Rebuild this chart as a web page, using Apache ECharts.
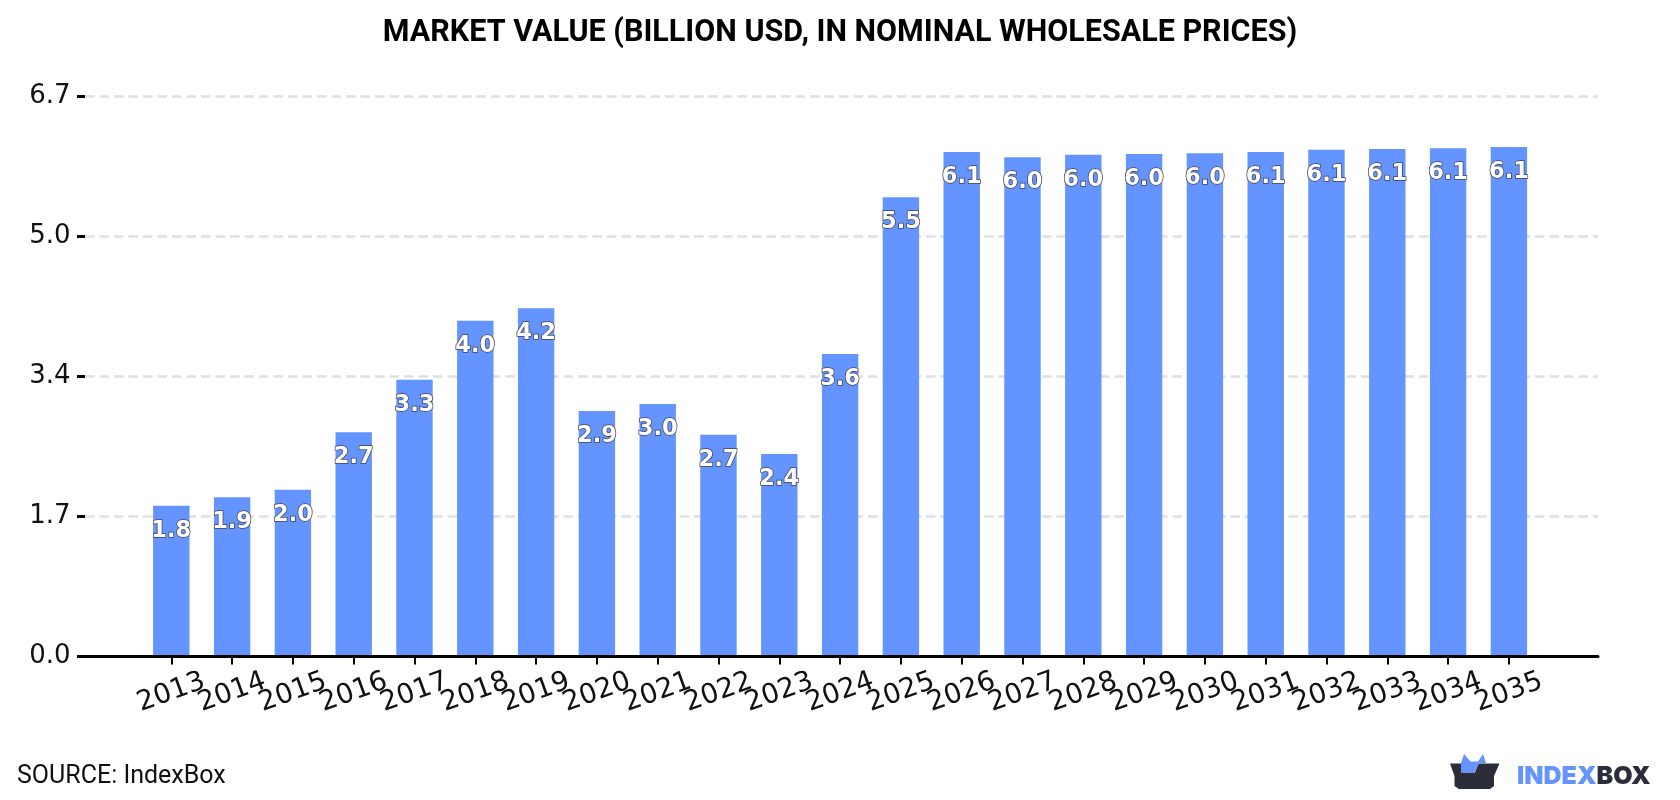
<!DOCTYPE html>
<html>
<head>
<meta charset="utf-8">
<style>html,body{margin:0;padding:0;background:#fff}#chart{width:1680px;height:800px}</style>
<script src="https://cdn.jsdelivr.net/npm/echarts@6/dist/echarts.min.js"></script>
</head>
<body>
<div id="chart"></div>
<script>
// Market value by year, billion USD
const years = ['2013','2014','2015','2016','2017','2018','2019','2020','2021','2022','2023','2024',
  '2025','2026','2027','2028','2029','2030','2031','2032','2033','2034','2035'];
const marketValue = [1.81,1.91,2.00,2.69,3.32,4.03,4.18,2.945,3.03,2.66,2.43,3.63,
  5.51,6.055,5.99,6.02,6.03,6.04,6.055,6.08,6.09,6.10,6.115];
const valueMax = 6.72;
const valueStep = 1.68;

const titleText = 'MARKET VALUE (BILLION USD, IN NOMINAL WHOLESALE PRICES)';
const sourceText = 'SOURCE: IndexBox';
const BLUE = '#6394ff';
const DARK = '#2b2d3a';
const AXIS_TOP = 96.5, AXIS_HEIGHT = 560;

const chart = echarts.init(document.getElementById('chart'), null, {renderer: 'canvas'});
chart.setOption({
  animation: false,
  backgroundColor: '#fff',
  title: [
    {text: titleText, left: 'center', top: 13,
     textStyle: {fontFamily: 'Roboto', fontWeight: 'bold', fontSize: 30.5, color: '#000'}},
    {text: sourceText, left: 17, top: 764, padding: 0,
     textStyle: {fontFamily: 'Roboto', fontWeight: 'normal', fontSize: 25, color: '#111'}}
  ],
  // Outer grid carries the value axis and the long baseline, inner grid carries the bars
  grid: [
    {left: 85, right: 82, top: AXIS_TOP, height: AXIS_HEIGHT},
    {left: 140.9, width: 1398.4, top: AXIS_TOP, height: AXIS_HEIGHT}
  ],
  xAxis: [
    {gridIndex: 0, type: 'category', data: [''], axisTick: {show: false}, axisLabel: {show: false},
     axisLine: {show: true, lineStyle: {color: '#000', width: 3}}, z: 5},
    {gridIndex: 1, type: 'category', data: years,
     axisLine: {show: false},
     axisTick: {show: true, alignWithLabel: true, length: 8, lineStyle: {color: '#000', width: 2}},
     axisLabel: {interval: 0, rotate: 20, align: 'center', verticalAlign: 'middle', margin: 36,
       hideOverlap: false, fontFamily: 'DejaVu Sans', fontSize: 27.5, color: '#111'}}
  ],
  yAxis: [
    {gridIndex: 0, type: 'value', min: 0, max: valueMax, interval: valueStep,
     axisLine: {show: false},
     axisTick: {show: true, length: 8, lineStyle: {color: '#000', width: 3}},
     axisLabel: {margin: 14.5, fontFamily: 'DejaVu Sans', fontSize: 26, color: '#111', padding: [5, 0, 0, 0],
       formatter: v => v.toFixed(1)},
     splitLine: {show: true, lineStyle: {color: '#e0e0e0', width: 2.5, type: [9.5, 5]}}},
    {gridIndex: 1, type: 'value', min: 0, max: valueMax, interval: valueStep, show: false,
     splitLine: {show: false}}
  ],
  series: [{
    type: 'bar', xAxisIndex: 1, yAxisIndex: 1, data: marketValue, barWidth: 36.4,
    itemStyle: {color: BLUE},
    label: {show: true, position: 'insideTop', distance: 13.5,
      formatter: p => p.value.toFixed(1),
      fontFamily: 'DejaVu Sans', fontWeight: 'bold', fontSize: 22.5, color: '#fff',
      textBorderColor: '#44444e', textBorderWidth: 1.5}
  }],
  graphic: [
    // IndexBox logo: open box with two blue ears and the wordmark
    {type: 'polygon', z: 10, shape: {points: [[1461,763],[1464,754],[1470.5,761.5],[1478,761.5],[1483,754],[1486,763],[1478.5,763],[1475,772.5],[1461,772.5]]},
     style: {fill: BLUE}},
    {type: 'polygon', z: 9, shape: {points: [[1450,763.5],[1461,763.5],[1461,772.5],[1475,772.5],[1478.5,763.5],[1499.5,763.5],[1494,776],[1494,786],[1490,789],[1459,789],[1454.5,786],[1454.5,776]]},
     style: {fill: DARK}},
    {type: 'text', z: 10, x: 1517, y: 764,
     style: {rich: {a: {fill: BLUE, font: '900 25px Inter'}, b: {fill: DARK, font: '900 25px Inter'}},
       text: '{a|INDEX}{b|BOX}', textBaseline: 'top'}}
  ]
});
</script>
</body>
</html>
